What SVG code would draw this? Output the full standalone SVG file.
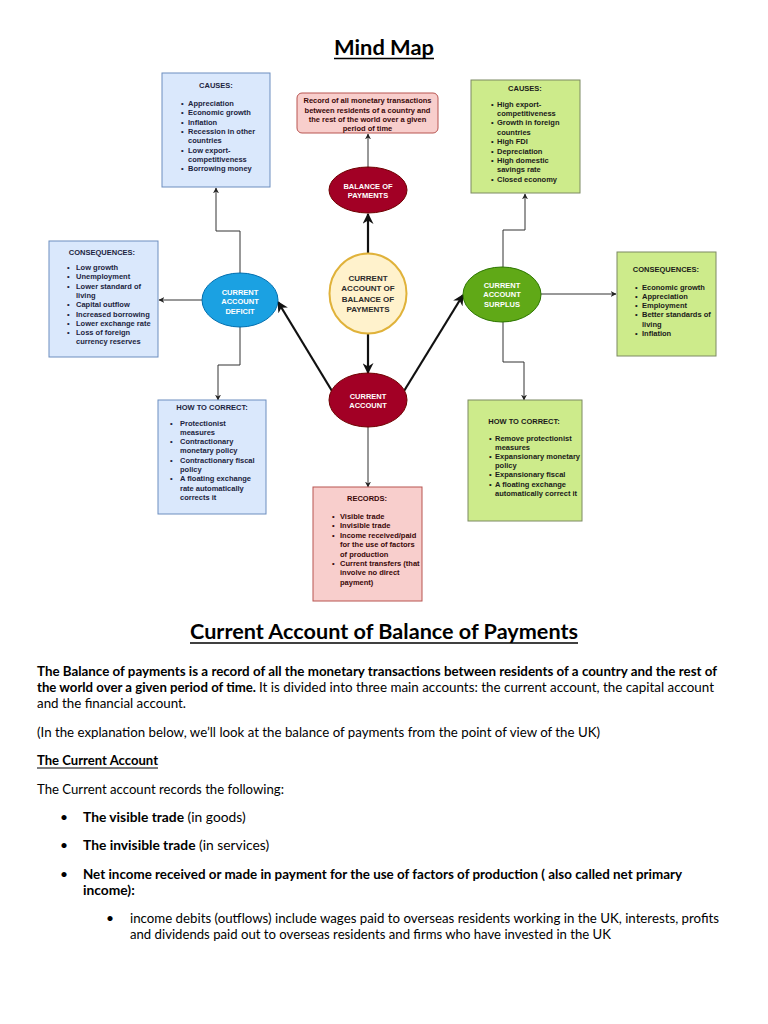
<svg xmlns="http://www.w3.org/2000/svg" width="768" height="1024" viewBox="0 0 768 1024">
<style>
.bx{font-family:"Liberation Sans",Arial,sans-serif;font-size:7.5px;font-weight:bold}
.hd{text-anchor:middle}
.blue rect{fill:#dae8fc;stroke:#6c8ebf;stroke-width:1}
.blue text{fill:#1c2440}
.green rect{fill:#cdeb8b;stroke:#7c8a63;stroke-width:1}
.green text{fill:#1a1a1a}
.pink rect{fill:#f8cecc;stroke:#b85450;stroke-width:1}
.pink text{fill:#3a0808}
.el{font-family:"Liberation Sans",Arial,sans-serif;font-size:7.5px;font-weight:bold;fill:#ffffff;text-anchor:middle}
.thin{stroke:#333;stroke-width:1;fill:none}
.thick{stroke:#111;stroke-width:2.2;fill:none}
.doc{font-family:Lato,"Open Sans",sans-serif;font-size:13.8px;fill:#000}
.b{font-weight:bold}
.ttl{font-family:Lato,"Open Sans",sans-serif;font-size:20px;font-weight:bold;fill:#000}
</style>
<defs>
<marker id="ar" viewBox="0 0 10 10" refX="9" refY="5" markerWidth="6" markerHeight="6" markerUnits="userSpaceOnUse" orient="auto"><path d="M0,0 L10,5 L0,10 L3,5 z" fill="#222"/></marker>
<marker id="ak" viewBox="0 0 10 10" refX="9" refY="5" markerWidth="11" markerHeight="11" markerUnits="userSpaceOnUse" orient="auto"><path d="M0,0 L10,5 L0,10 L3,5 z" fill="#111"/></marker>
</defs>
<rect width="768" height="1024" fill="#ffffff"/>

<text class="ttl" x="384" y="55" text-anchor="middle" textLength="100" lengthAdjust="spacingAndGlyphs">Mind Map</text>
<line x1="334" y1="58.5" x2="434" y2="58.5" stroke="#000" stroke-width="1.4"/>

<g id="connectors">
<line class="thick" x1="368" y1="253" x2="368" y2="214" marker-end="url(#ak)"/>
<line class="thick" x1="368" y1="334" x2="368" y2="373" marker-end="url(#ak)"/>
<line class="thick" x1="332" y1="391" x2="278" y2="302" marker-end="url(#ak)"/>
<line class="thick" x1="404" y1="391" x2="463" y2="295" marker-end="url(#ak)"/>
<line class="thin" x1="368" y1="167" x2="368" y2="134" marker-end="url(#ar)"/>
<line class="thin" x1="368" y1="427" x2="368" y2="487" marker-end="url(#ar)"/>
<path class="thin" d="M240,273 V231 H216 V188" marker-end="url(#ar)"/>
<path class="thin" d="M202,300 H159" marker-end="url(#ar)"/>
<path class="thin" d="M240,327 V365 H218 V400" marker-end="url(#ar)"/>
<path class="thin" d="M503,267 V230 H525 V194" marker-end="url(#ar)"/>
<path class="thin" d="M541,294 H616" marker-end="url(#ar)"/>
<path class="thin" d="M503,322 V362 H524 V400" marker-end="url(#ar)"/>
</g>

<g id="causes-deficit" class="blue bx">
<rect x="162" y="73" width="108" height="114"/>
<text class="hd" x="216" y="88">CAUSES:</text>
<text x="181" y="106">•</text><text x="188" y="106">Appreciation</text>
<text x="181" y="115.3">•</text><text x="188" y="115.3">Economic growth</text>
<text x="181" y="124.6">•</text><text x="188" y="124.6">Inflation</text>
<text x="181" y="133.9">•</text><text x="188" y="133.9">Recession in other</text>
<text x="188" y="143.2">countries</text>
<text x="181" y="152.5">•</text><text x="188" y="152.5">Low export-</text>
<text x="188" y="161.8">competitiveness</text>
<text x="181" y="171.1">•</text><text x="188" y="171.1">Borrowing money</text>
</g>

<g id="bop-description" class="pink bx">
<rect x="297" y="93" width="141" height="40" rx="5"/>
<text class="hd" x="367.5" y="103.4">Record of all monetary transactions</text>
<text class="hd" x="367.5" y="112.7">between residents of a country and</text>
<text class="hd" x="367.5" y="122">the rest of the world over a given</text>
<text class="hd" x="367.5" y="131.3">period of time</text>
</g>

<g id="causes-surplus" class="green bx">
<rect x="471" y="80" width="109" height="113"/>
<text class="hd" x="525" y="91">CAUSES:</text>
<text x="491" y="106.5">•</text><text x="497" y="106.5">High export-</text>
<text x="497" y="115.9">competitiveness</text>
<text x="491" y="125.3">•</text><text x="497" y="125.3">Growth in foreign</text>
<text x="497" y="134.7">countries</text>
<text x="491" y="144.1">•</text><text x="497" y="144.1">High FDI</text>
<text x="491" y="153.5">•</text><text x="497" y="153.5">Depreciation</text>
<text x="491" y="162.9">•</text><text x="497" y="162.9">High domestic</text>
<text x="497" y="172.3">savings rate</text>
<text x="491" y="181.7">•</text><text x="497" y="181.7">Closed economy</text>
</g>

<g id="consequences-deficit" class="blue bx">
<rect x="49" y="241" width="109" height="116"/>
<text class="hd" x="102" y="254.5">CONSEQUENCES:</text>
<text x="67" y="270">•</text><text x="76" y="270">Low growth</text>
<text x="67" y="279.3">•</text><text x="76" y="279.3">Unemployment</text>
<text x="67" y="288.6">•</text><text x="76" y="288.6">Lower standard of</text>
<text x="76" y="297.9">living</text>
<text x="67" y="307.2">•</text><text x="76" y="307.2">Capital outflow</text>
<text x="67" y="316.5">•</text><text x="76" y="316.5">Increased borrowing</text>
<text x="67" y="325.8">•</text><text x="76" y="325.8">Lower exchange rate</text>
<text x="67" y="335.1">•</text><text x="76" y="335.1">Loss of foreign</text>
<text x="76" y="344.4">currency reserves</text>
</g>

<g id="consequences-surplus" class="green bx">
<rect x="617" y="252" width="99" height="104"/>
<text class="hd" x="666" y="272">CONSEQUENCES:</text>
<text x="635" y="289.5">•</text><text x="642" y="289.5">Economic growth</text>
<text x="635" y="298.8">•</text><text x="642" y="298.8">Appreciation</text>
<text x="635" y="308.1">•</text><text x="642" y="308.1">Employment</text>
<text x="635" y="317.4">•</text><text x="642" y="317.4">Better standards of</text>
<text x="642" y="326.7">living</text>
<text x="635" y="336">•</text><text x="642" y="336">Inflation</text>
</g>

<g id="correct-deficit" class="blue bx">
<rect x="158" y="400" width="108" height="114"/>
<text class="hd" x="212" y="409.5">HOW TO CORRECT:</text>
<text x="170" y="425.5">•</text><text x="180" y="425.5">Protectionist</text>
<text x="180" y="434.8">measures</text>
<text x="170" y="444.1">•</text><text x="180" y="444.1">Contractionary</text>
<text x="180" y="453.4">monetary policy</text>
<text x="170" y="462.7">•</text><text x="180" y="462.7">Contractionary fiscal</text>
<text x="180" y="472">policy</text>
<text x="170" y="481.3">•</text><text x="180" y="481.3">A floating exchange</text>
<text x="180" y="490.6">rate automatically</text>
<text x="180" y="499.9">corrects it</text>
</g>

<g id="records" class="pink bx">
<rect x="313" y="487" width="109" height="114"/>
<text class="hd" x="367" y="501">RECORDS:</text>
<text x="332" y="519">•</text><text x="340" y="519">Visible trade</text>
<text x="332" y="528.4">•</text><text x="340" y="528.4">Invisible trade</text>
<text x="332" y="537.8">•</text><text x="340" y="537.8">Income received/paid</text>
<text x="340" y="547.2">for the use of factors</text>
<text x="340" y="556.6">of production</text>
<text x="332" y="566">•</text><text x="340" y="566">Current transfers (that</text>
<text x="340" y="575.4">involve no direct</text>
<text x="340" y="584.8">payment)</text>
</g>

<g id="correct-surplus" class="green bx">
<rect x="468" y="400" width="114" height="121"/>
<text class="hd" x="524" y="424">HOW TO CORRECT:</text>
<text x="489" y="441">•</text><text x="495" y="441">Remove protectionist</text>
<text x="495" y="450.1">measures</text>
<text x="489" y="459.2">•</text><text x="495" y="459.2">Expansionary monetary</text>
<text x="495" y="468.3">policy</text>
<text x="489" y="477.4">•</text><text x="495" y="477.4">Expansionary fiscal</text>
<text x="489" y="486.5">•</text><text x="495" y="486.5">A floating exchange</text>
<text x="495" y="495.6">automatically correct it</text>
</g>

<g id="balance-of-payments">
<ellipse cx="368" cy="190" rx="39" ry="23" fill="#a20025" stroke="#6f0000" stroke-width="1"/>
<text class="el" x="368" y="188.5">BALANCE OF</text>
<text class="el" x="368" y="198">PAYMENTS</text>
</g>

<g id="central">
<ellipse cx="368" cy="293.5" rx="38.5" ry="40" fill="#fff2cc" stroke="#e0b23a" stroke-width="2"/>
<text class="el" style="fill:#2b2b2b;font-size:8px" x="368" y="281">CURRENT</text>
<text class="el" style="fill:#2b2b2b;font-size:8px" x="368" y="291.3">ACCOUNT OF</text>
<text class="el" style="fill:#2b2b2b;font-size:8px" x="368" y="301.6">BALANCE OF</text>
<text class="el" style="fill:#2b2b2b;font-size:8px" x="368" y="311.9">PAYMENTS</text>
</g>

<g id="current-account">
<ellipse cx="368" cy="400" rx="39" ry="27" fill="#a20025" stroke="#6f0000" stroke-width="1"/>
<text class="el" x="368" y="398.7">CURRENT</text>
<text class="el" x="368" y="408">ACCOUNT</text>
</g>

<g id="deficit">
<ellipse cx="240" cy="300" rx="38" ry="27" fill="#1ba1e2" stroke="#006eaf" stroke-width="1"/>
<text class="el" x="240" y="294.5">CURRENT</text>
<text class="el" x="240" y="304">ACCOUNT</text>
<text class="el" x="240" y="313.5">DEFICIT</text>
</g>

<g id="surplus">
<ellipse cx="502" cy="294.5" rx="39" ry="27.5" fill="#60a917" stroke="#2d7600" stroke-width="1"/>
<text class="el" x="502" y="288">CURRENT</text>
<text class="el" x="502" y="297.3">ACCOUNT</text>
<text class="el" x="502" y="306.6">SURPLUS</text>
</g>

<g id="text-section">
<text class="ttl" x="384" y="639" text-anchor="middle" textLength="388" lengthAdjust="spacingAndGlyphs">Current Account of Balance of Payments</text>
<line x1="190" y1="643" x2="578" y2="643" stroke="#000" stroke-width="1.4"/>
<text class="doc b" x="37" y="676" textLength="680" lengthAdjust="spacingAndGlyphs">The Balance of payments is a record of all the monetary transactions between residents of a country and the rest of</text>
<text class="doc b" x="37" y="692" textLength="219" lengthAdjust="spacingAndGlyphs">the world over a given period of time.</text>
<text class="doc" x="259" y="692" textLength="455" lengthAdjust="spacingAndGlyphs">It is divided into three main accounts: the current account, the capital account</text>
<text class="doc" x="37" y="708" textLength="149" lengthAdjust="spacingAndGlyphs">and the financial account.</text>
<text class="doc" x="37" y="737" textLength="563" lengthAdjust="spacingAndGlyphs">(In the explanation below, we’ll look at the balance of payments from the point of view of the UK)</text>
<text class="doc b" x="37" y="765" textLength="121" lengthAdjust="spacingAndGlyphs">The Current Account</text>
<line x1="37" y1="768" x2="158" y2="768" stroke="#000" stroke-width="1"/>
<text class="doc" x="37" y="794" textLength="247" lengthAdjust="spacingAndGlyphs">The Current account records the following:</text>
<text class="doc" x="60" y="822">•</text>
<text class="doc" x="83" y="822"><tspan class="b">The visible trade</tspan> (in goods)</text>
<text class="doc" x="60" y="850">•</text>
<text class="doc" x="83" y="850"><tspan class="b">The invisible trade</tspan> (in services)</text>
<text class="doc" x="60" y="879">•</text>
<text class="doc b" x="83" y="879" textLength="599" lengthAdjust="spacingAndGlyphs">Net income received or made in payment for the use of factors of production ( also called net primary</text>
<text class="doc b" x="83" y="895">income):</text>
<text class="doc" x="106" y="923">•</text>
<text class="doc" x="130" y="923" textLength="589" lengthAdjust="spacingAndGlyphs">income debits (outflows) include wages paid to overseas residents working in the UK, interests, profits</text>
<text class="doc" x="130" y="939" textLength="481" lengthAdjust="spacingAndGlyphs">and dividends paid out to overseas residents and firms who have invested in the UK</text>
</g>
</svg>
